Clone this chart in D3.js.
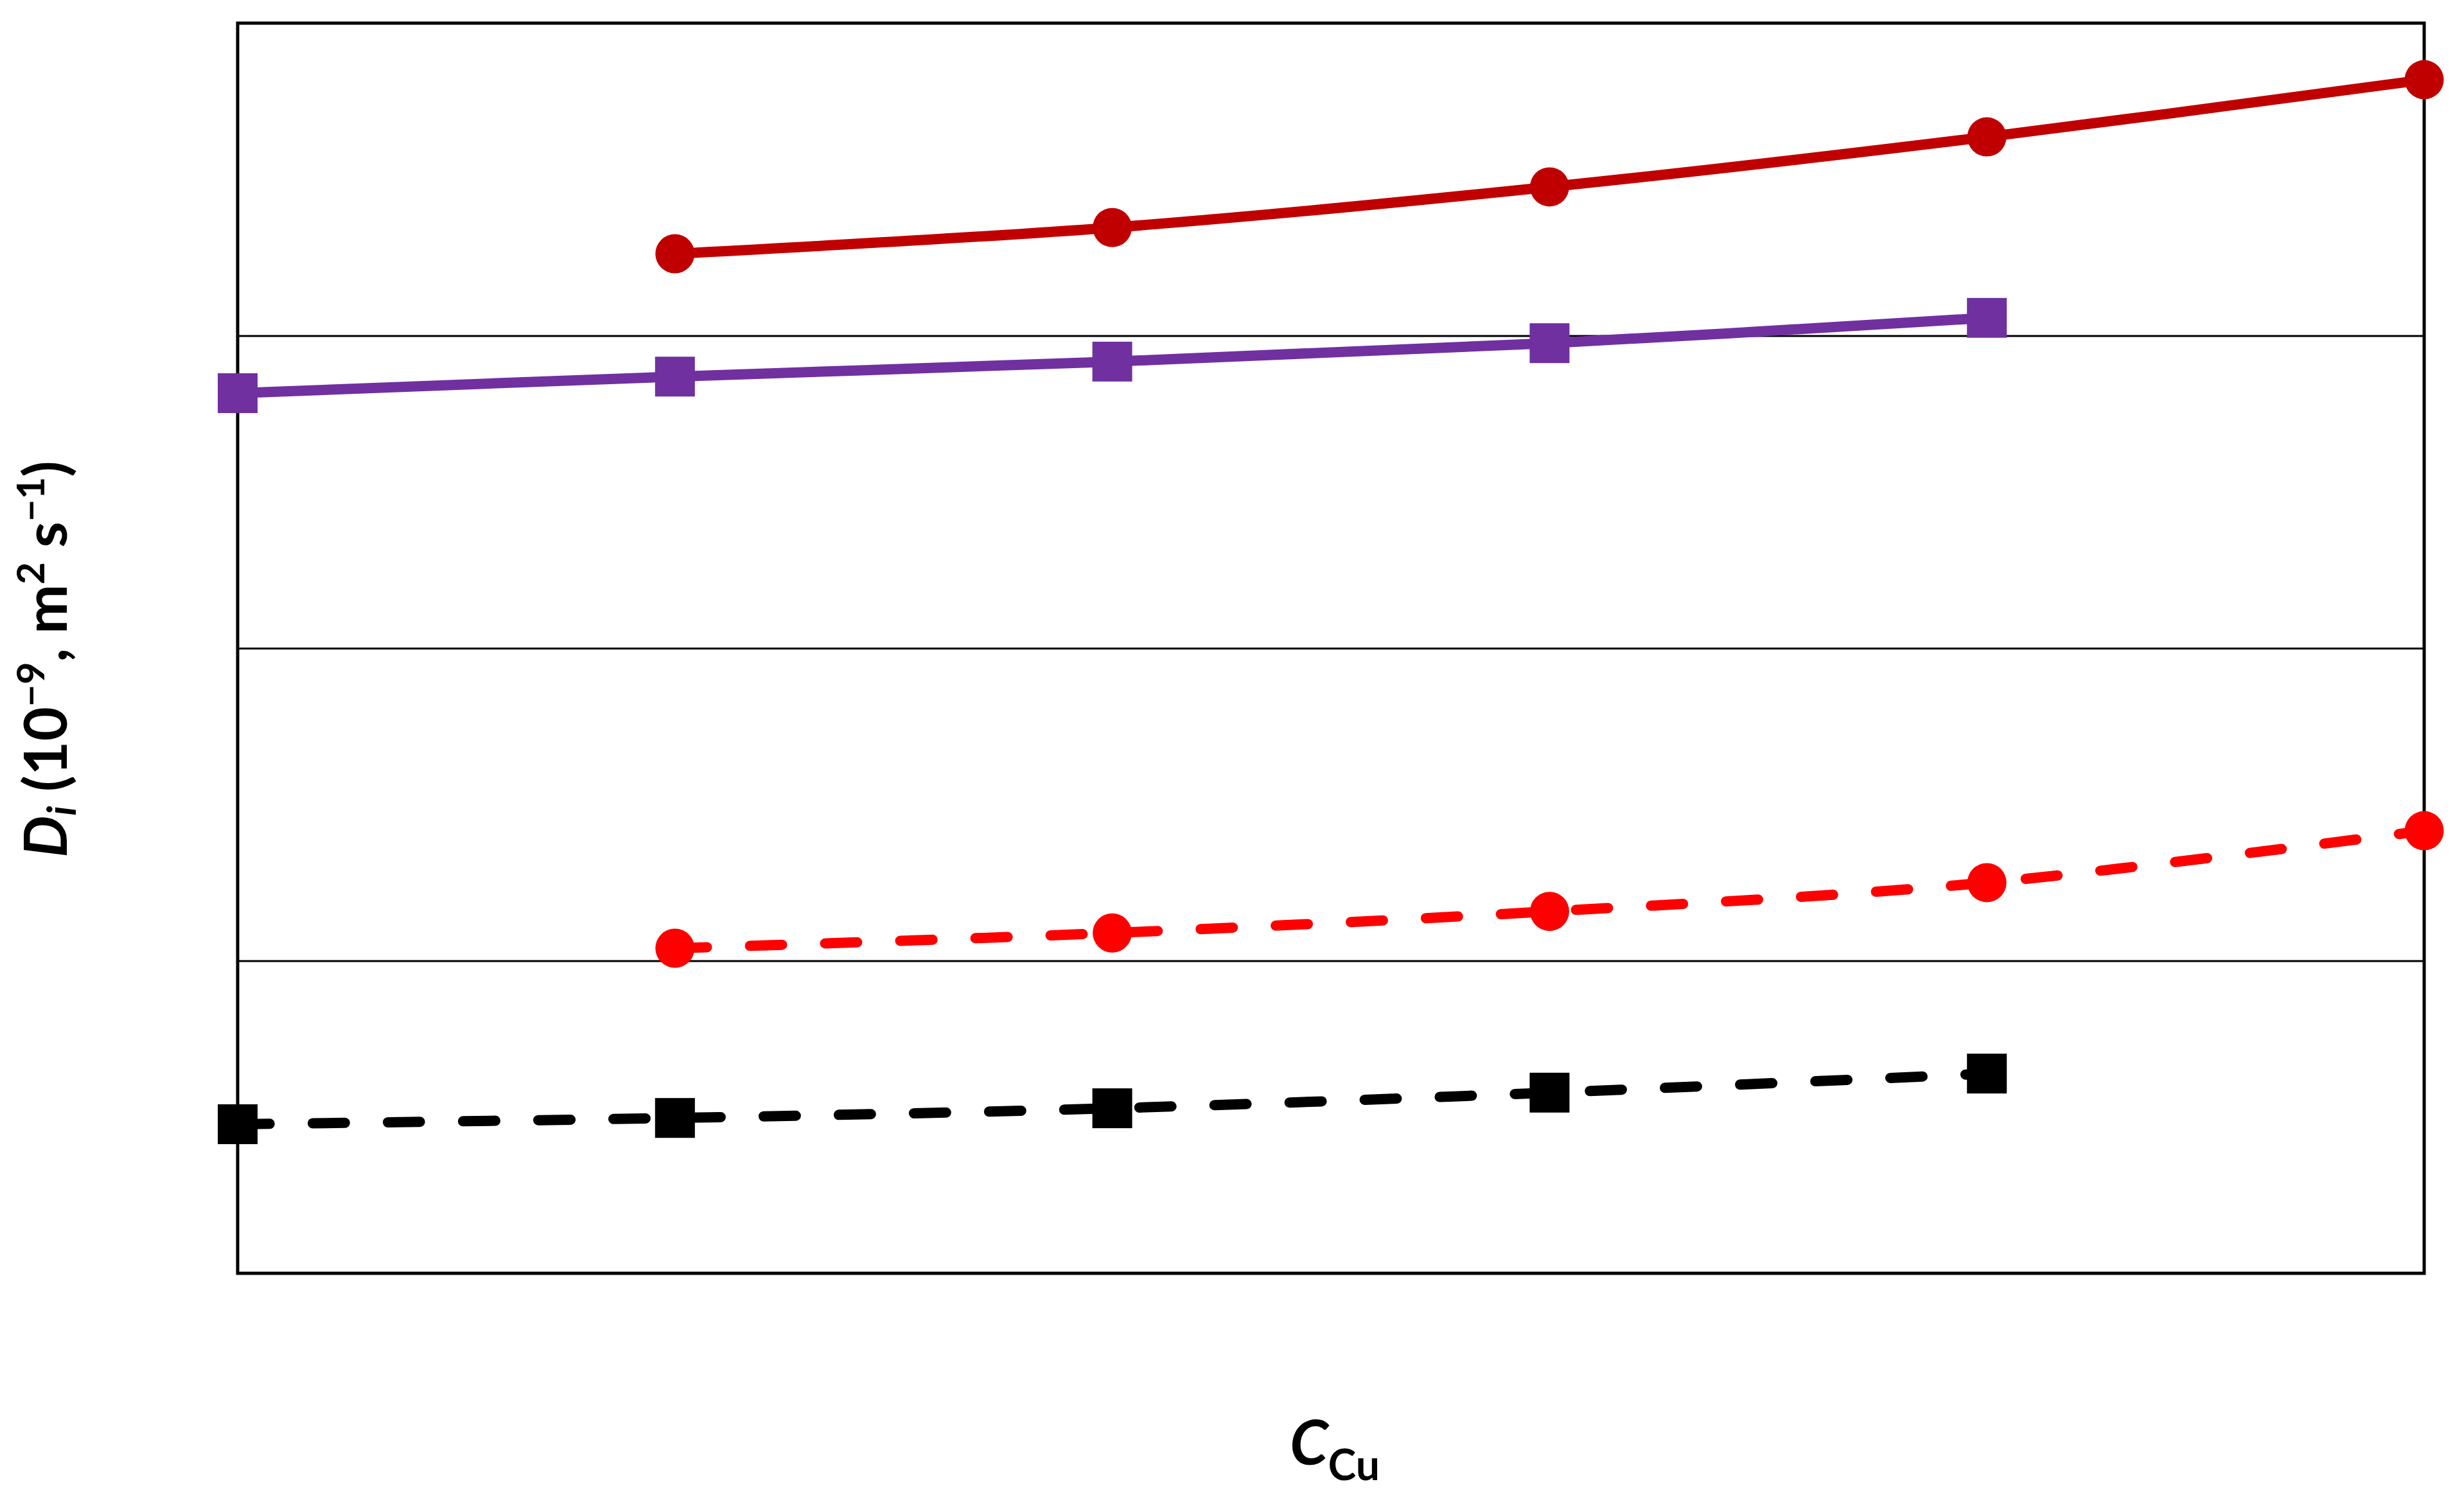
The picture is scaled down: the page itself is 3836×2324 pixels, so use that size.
<!DOCTYPE html>
<html>
<head>
<meta charset="utf-8">
<script src="https://cdn.jsdelivr.net/npm/d3@7"></script>
<style>
  html, body { margin: 0; padding: 0; background: #fff; }
  svg { display: block; }
  text { font-family: Lato, "Open Sans", sans-serif; font-weight: 700; fill: #000; }
</style>
</head>
<body>
<svg id="chart" width="3836" height="2324"></svg>
<script>
// ---- data (x = Cu concentration step, y = D_i in 10^-9 m^2 s^-1, arbitrary units) ----
const xDomain = [0, 5];
const yDomain = [0, 4];
const gridValues = [1, 2, 3];

const darkRedX = [1, 2, 3, 4, 5];
const darkRedY = [3.262, 3.346, 3.476, 3.636, 3.819];

const purpleX = [0, 1, 2, 3, 4];
const purpleY = [2.816, 2.869, 2.917, 2.976, 3.057];

const redX = [1, 2, 3, 4, 5];
const redY = [1.040, 1.089, 1.158, 1.250, 1.416];

const blackX = [0, 1, 2, 3, 4];
const blackY = [0.477, 0.497, 0.528, 0.578, 0.639];

const seriesList = [
  { xs: darkRedX, ys: darkRedY, color: "#C00000", marker: "circle", dashed: false },
  { xs: purpleX,  ys: purpleY,  color: "#7030A0", marker: "square", dashed: false },
  { xs: redX,     ys: redY,     color: "#FF0000", marker: "circle", dashed: true },
  { xs: blackX,   ys: blackY,   color: "#000000", marker: "square", dashed: true }
];

// ---- layout ----
const plotL = 370, plotR = 3774, plotT = 36, plotB = 1982;
const svg = d3.select("#chart");

const x = d3.scaleLinear().domain(xDomain).range([plotL, plotR]);
const y = d3.scaleLinear().domain(yDomain).range([plotB, plotT]);

// gridlines via axis
const grid = svg.append("g")
  .attr("transform", `translate(${plotL},0)`)
  .call(d3.axisLeft(y).tickValues(gridValues).tickSize(-(plotR - plotL)).tickFormat(""));
grid.select(".domain").remove();
grid.selectAll(".tick line").attr("stroke", "#000").attr("stroke-width", 3);

// frame
svg.append("rect")
  .attr("x", plotL).attr("y", plotT)
  .attr("width", plotR - plotL).attr("height", plotB - plotT)
  .attr("fill", "none").attr("stroke", "#000").attr("stroke-width", 5);

const line = d3.line()
  .x(d => x(d[0])).y(d => y(d[1]))
  .curve(d3.curveCardinal.tension(0));

seriesList.forEach(s => {
  const pts = s.xs.map((v, i) => [v, s.ys[i]]);
  const g = svg.append("g");
  const p = g.append("path")
    .attr("d", line(pts))
    .attr("fill", "none")
    .attr("stroke", s.color)
    .attr("stroke-width", 16);
  if (s.dashed) {
    p.attr("stroke-dasharray", "50 67").attr("stroke-linecap", "round");
  } else {
    p.attr("stroke-linecap", "butt").attr("stroke-linejoin", "round");
  }
  if (s.marker === "circle") {
    g.selectAll("circle").data(pts).enter().append("circle")
      .attr("cx", d => x(d[0])).attr("cy", d => y(d[1]))
      .attr("r", 30.5).attr("fill", s.color);
  } else {
    const sz = 62;
    g.selectAll("rect").data(pts).enter().append("rect")
      .attr("x", d => x(d[0]) - sz / 2).attr("y", d => y(d[1]) - sz / 2)
      .attr("width", sz).attr("height", sz).attr("fill", s.color);
  }
});

// x axis title: C_Cu
const xt = svg.append("text")
  .attr("x", (plotL + plotR) / 2 + 6).attr("y", 2280)
  .attr("text-anchor", "middle");
xt.append("tspan").attr("font-style", "italic").attr("font-size", 96).text("C");
xt.append("tspan").attr("font-size", 66).attr("dy", 24).text("Cu");

// y axis title: D_i (10^-9, m^2 s^-1)
const yt = svg.append("text")
  .attr("transform", `translate(104,1026) rotate(-90)`)
  .attr("text-anchor", "middle")
  .attr("font-size", 92);
yt.append("tspan").attr("font-style", "italic").text("D");
yt.append("tspan").attr("font-style", "italic").attr("font-size", 62).attr("dy", 14).text("i");
yt.append("tspan").attr("dy", -14).text(" (10");
yt.append("tspan").attr("font-size", 60).attr("dy", -35).text("\u22129");
yt.append("tspan").attr("dy", 35).text(", m");
yt.append("tspan").attr("font-size", 60).attr("dy", -35).text("2");
yt.append("tspan").attr("dy", 35).text(" s");
yt.append("tspan").attr("font-size", 60).attr("dy", -35).text("\u22121");
yt.append("tspan").attr("dy", 35).text(")");
</script>
</body>
</html>
